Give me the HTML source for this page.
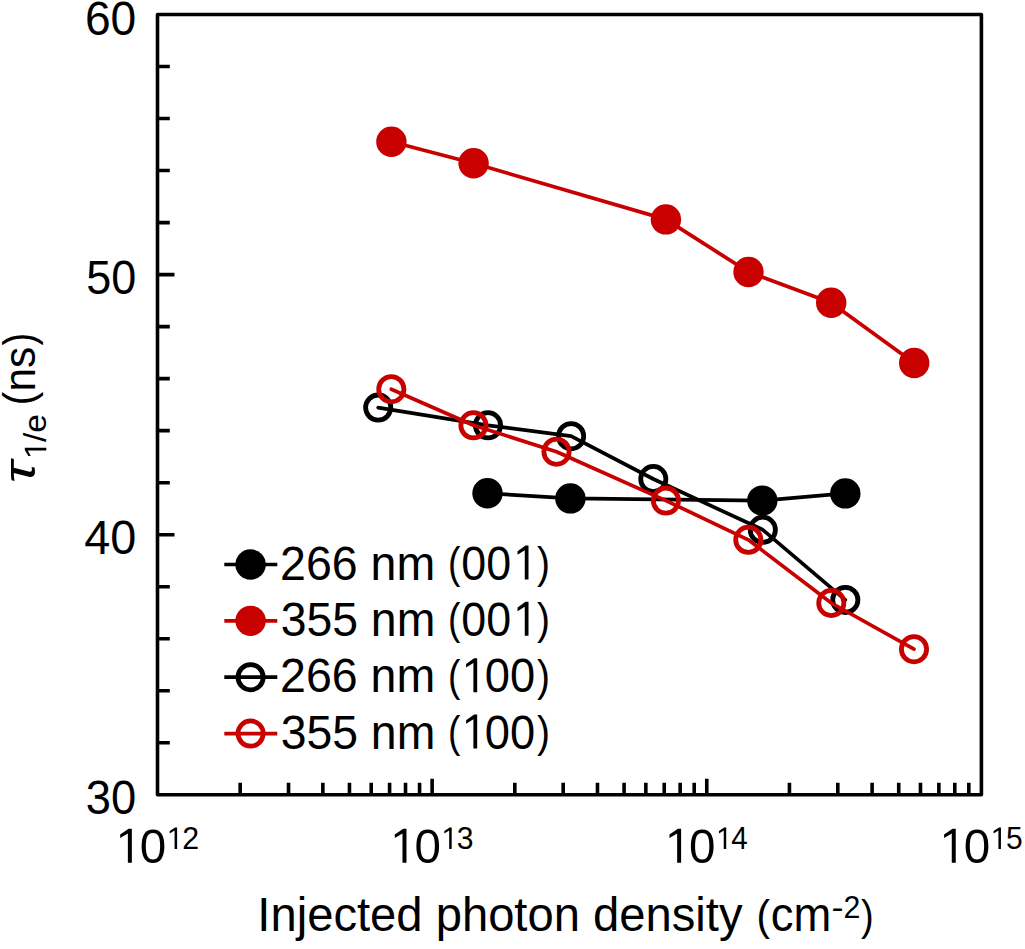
<!DOCTYPE html>
<html><head><meta charset="utf-8"><style>
html,body{margin:0;padding:0;background:#fff;}
svg{display:block;}
text{font-family:"Liberation Sans",sans-serif;fill:#000;font-kerning:none;}
</style></head><body>
<svg width="1025" height="949" viewBox="0 0 1025 949">
<rect x="157.5" y="14.5" width="823.90" height="780.30" fill="none" stroke="#000" stroke-width="3.6" stroke-linejoin="round"/>
<path d="M157.50 742.78H169.80M157.50 690.76H169.80M157.50 638.74H169.80M157.50 586.72H169.80M157.50 534.70H174.50M157.50 482.68H169.80M157.50 430.66H169.80M157.50 378.64H169.80M157.50 326.62H169.80M157.50 274.60H174.50M157.50 222.58H169.80M157.50 170.56H169.80M157.50 118.54H169.80M157.50 66.52H169.80M240.17 794.80V782.80M288.53 794.80V782.80M322.85 794.80V782.80M349.46 794.80V782.80M371.21 794.80V782.80M389.59 794.80V782.80M405.52 794.80V782.80M419.57 794.80V782.80M432.13 794.80V778.80M514.81 794.80V782.80M563.17 794.80V782.80M597.48 794.80V782.80M624.09 794.80V782.80M645.84 794.80V782.80M664.23 794.80V782.80M680.15 794.80V782.80M694.20 794.80V782.80M706.77 794.80V778.80M789.44 794.80V782.80M837.80 794.80V782.80M872.11 794.80V782.80M898.73 794.80V782.80M920.47 794.80V782.80M938.86 794.80V782.80M954.79 794.80V782.80M968.83 794.80V782.80" stroke="#000" stroke-width="3.6" fill="none"/>
<text x="84.96" y="35.00" font-size="49" textLength="51.35" lengthAdjust="spacingAndGlyphs">60</text>
<text x="86.20" y="294.30" font-size="49" textLength="50.06" lengthAdjust="spacingAndGlyphs">50</text>
<text x="84.22" y="554.40" font-size="49" textLength="52.10" lengthAdjust="spacingAndGlyphs">40</text>
<text x="85.87" y="814.10" font-size="49" textLength="50.40" lengthAdjust="spacingAndGlyphs">30</text>
<text x="113.32" y="862.80" font-size="49" textLength="52.94" lengthAdjust="spacingAndGlyphs"> 0</text><path d="M797 0L626 0L626 1221L296 1032L296 1183L660 1421L797 1421Z" transform="translate(113.32 862.80) scale(0.02324 -0.02393)"/>
<text x="165.32" y="849.00" font-size="31" textLength="33.70" lengthAdjust="spacingAndGlyphs"> 2</text><path d="M797 0L626 0L626 1221L296 1032L296 1183L660 1421L797 1421Z" transform="translate(165.32 849.00) scale(0.01480 -0.01514)"/>
<text x="387.95" y="862.80" font-size="49" textLength="52.94" lengthAdjust="spacingAndGlyphs"> 0</text><path d="M797 0L626 0L626 1221L296 1032L296 1183L660 1421L797 1421Z" transform="translate(387.95 862.80) scale(0.02324 -0.02393)"/>
<text x="439.98" y="849.00" font-size="31" textLength="33.47" lengthAdjust="spacingAndGlyphs"> 3</text><path d="M797 0L626 0L626 1221L296 1032L296 1183L660 1421L797 1421Z" transform="translate(439.98 849.00) scale(0.01469 -0.01514)"/>
<text x="662.59" y="862.80" font-size="49" textLength="52.94" lengthAdjust="spacingAndGlyphs"> 0</text><path d="M797 0L626 0L626 1221L296 1032L296 1183L660 1421L797 1421Z" transform="translate(662.59 862.80) scale(0.02324 -0.02393)"/>
<text x="714.69" y="849.00" font-size="31" textLength="32.95" lengthAdjust="spacingAndGlyphs"> 4</text><path d="M797 0L626 0L626 1221L296 1032L296 1183L660 1421L797 1421Z" transform="translate(714.69 849.00) scale(0.01446 -0.01514)"/>
<text x="937.22" y="862.80" font-size="49" textLength="52.94" lengthAdjust="spacingAndGlyphs"> 0</text><path d="M797 0L626 0L626 1221L296 1032L296 1183L660 1421L797 1421Z" transform="translate(937.22 862.80) scale(0.02324 -0.02393)"/>
<text x="989.26" y="849.00" font-size="31" textLength="33.40" lengthAdjust="spacingAndGlyphs"> 5</text><path d="M797 0L626 0L626 1221L296 1032L296 1183L660 1421L797 1421Z" transform="translate(989.26 849.00) scale(0.01466 -0.01514)"/>
<text x="257.35" y="931.40" font-size="47.5" textLength="485.15" lengthAdjust="spacingAndGlyphs">Injected photon density</text>
<text x="756.47" y="929.60" font-size="43.4" textLength="13.56" lengthAdjust="spacingAndGlyphs">(</text>
<text x="770.77" y="931.40" font-size="47.5" textLength="60.41" lengthAdjust="spacingAndGlyphs">cm</text>
<text x="831.40" y="917.50" font-size="31" textLength="12.00" lengthAdjust="spacingAndGlyphs">-</text>
<text x="843.38" y="917.50" font-size="31" textLength="16.85" lengthAdjust="spacingAndGlyphs">2</text>
<text x="860.88" y="929.60" font-size="43.4" textLength="12.69" lengthAdjust="spacingAndGlyphs">)</text>
<g transform="translate(35 0) rotate(-90)"><text x="-483.35" y="0.00" font-size="45" textLength="21.94" lengthAdjust="spacingAndGlyphs" font-style="italic">τ</text><text x="-460.75" y="11.30" font-size="31" textLength="46.64" lengthAdjust="spacingAndGlyphs"> /e</text><path d="M797 0L626 0L626 1221L296 1032L296 1183L660 1421L797 1421Z" transform="translate(-460.75 11.30) scale(0.01638 -0.01514)"/><text x="-405.33" y="-1.40" font-size="43.9" textLength="13.56" lengthAdjust="spacingAndGlyphs">(</text><text x="-391.52" y="0.00" font-size="45" textLength="44.85" lengthAdjust="spacingAndGlyphs">ns</text><text x="-345.52" y="-1.40" font-size="43.9" textLength="12.69" lengthAdjust="spacingAndGlyphs">)</text></g>
<path d="M487.5 493.3 L570.4 498.4 L762.3 500.6 L845.3 493.4" fill="none" stroke="#000" stroke-width="3.7" stroke-linejoin="round" stroke-linecap="round"/><circle cx="487.5" cy="493.3" r="15.2" fill="#000"/><circle cx="570.4" cy="498.4" r="15.2" fill="#000"/><circle cx="762.3" cy="500.6" r="15.2" fill="#000"/><circle cx="845.3" cy="493.4" r="15.2" fill="#000"/>
<path d="M391.4 141.7 L473.6 163.3 L665.9 219.4 L748.5 272.0 L831.2 302.8 L914.2 363.0" fill="none" stroke="#c80000" stroke-width="3.7" stroke-linejoin="round" stroke-linecap="round"/><circle cx="391.4" cy="141.7" r="15.2" fill="#c80000"/><circle cx="473.6" cy="163.3" r="15.2" fill="#c80000"/><circle cx="665.9" cy="219.4" r="15.2" fill="#c80000"/><circle cx="748.5" cy="272" r="15.2" fill="#c80000"/><circle cx="831.2" cy="302.8" r="15.2" fill="#c80000"/><circle cx="914.2" cy="363" r="15.2" fill="#c80000"/>
<path d="M378.2 407.6 L488.0 425.3 L571.1 436.2 L653.3 479.0 L762.8 529.8 L845.3 599.9" fill="none" stroke="#000" stroke-width="3.7" stroke-linejoin="round" stroke-linecap="round"/><circle cx="378.2" cy="407.6" r="12.6" fill="none" stroke="#000" stroke-width="4.8"/><circle cx="488" cy="425.3" r="12.6" fill="none" stroke="#000" stroke-width="4.8"/><circle cx="571.1" cy="436.2" r="12.6" fill="none" stroke="#000" stroke-width="4.8"/><circle cx="653.3" cy="479" r="12.6" fill="none" stroke="#000" stroke-width="4.8"/><circle cx="762.8" cy="529.8" r="12.6" fill="none" stroke="#000" stroke-width="4.8"/><circle cx="845.3" cy="599.9" r="12.6" fill="none" stroke="#000" stroke-width="4.8"/>
<path d="M391.3 389.2 L473.4 425.3 L556.5 451.7 L665.9 500.6 L748.3 539.8 L831.3 603.0 L914.0 649.2" fill="none" stroke="#c80000" stroke-width="3.7" stroke-linejoin="round" stroke-linecap="round"/><circle cx="391.3" cy="389.2" r="12.6" fill="none" stroke="#c80000" stroke-width="4.8"/><circle cx="473.4" cy="425.3" r="12.6" fill="none" stroke="#c80000" stroke-width="4.8"/><circle cx="556.5" cy="451.7" r="12.6" fill="none" stroke="#c80000" stroke-width="4.8"/><circle cx="665.9" cy="500.6" r="12.6" fill="none" stroke="#c80000" stroke-width="4.8"/><circle cx="748.3" cy="539.8" r="12.6" fill="none" stroke="#c80000" stroke-width="4.8"/><circle cx="831.3" cy="603" r="12.6" fill="none" stroke="#c80000" stroke-width="4.8"/><circle cx="914" cy="649.2" r="12.6" fill="none" stroke="#c80000" stroke-width="4.8"/>
<path d="M224.3 564.50H277.3" stroke="#000" stroke-width="3.7"/><circle cx="250.6" cy="564.5" r="15.2" fill="#000"/><text x="280.06" y="579.50" font-size="49" textLength="155.21" lengthAdjust="spacingAndGlyphs">266 nm</text><text x="448.08" y="578.00" font-size="44.5" textLength="12.43" lengthAdjust="spacingAndGlyphs">(</text><text x="461.25" y="579.50" font-size="49" textLength="74.73" lengthAdjust="spacingAndGlyphs">00 </text><path d="M797 0L626 0L626 1221L296 1032L296 1183L660 1421L797 1421Z" transform="translate(511.07 579.50) scale(0.02187 -0.02393)"/><text x="537.07" y="578.00" font-size="44.5" textLength="12.94" lengthAdjust="spacingAndGlyphs">)</text>
<path d="M224.3 620.85H277.3" stroke="#c80000" stroke-width="3.7"/><circle cx="250.6" cy="620.85" r="15.2" fill="#c80000"/><text x="280.63" y="635.85" font-size="49" textLength="154.62" lengthAdjust="spacingAndGlyphs">355 nm</text><text x="448.08" y="634.35" font-size="44.5" textLength="12.43" lengthAdjust="spacingAndGlyphs">(</text><text x="461.25" y="635.85" font-size="49" textLength="74.73" lengthAdjust="spacingAndGlyphs">00 </text><path d="M797 0L626 0L626 1221L296 1032L296 1183L660 1421L797 1421Z" transform="translate(511.07 635.85) scale(0.02187 -0.02393)"/><text x="537.07" y="634.35" font-size="44.5" textLength="12.94" lengthAdjust="spacingAndGlyphs">)</text>
<path d="M224.3 677.20H277.3" stroke="#000" stroke-width="3.7"/><circle cx="250.6" cy="677.2" r="12.6" fill="none" stroke="#000" stroke-width="4.8"/><text x="280.06" y="692.20" font-size="49" textLength="155.21" lengthAdjust="spacingAndGlyphs">266 nm</text><text x="448.08" y="690.70" font-size="44.5" textLength="12.43" lengthAdjust="spacingAndGlyphs">(</text><text x="459.56" y="692.20" font-size="49" textLength="75.51" lengthAdjust="spacingAndGlyphs"> 00</text><path d="M797 0L626 0L626 1221L296 1032L296 1183L660 1421L797 1421Z" transform="translate(459.56 692.20) scale(0.02210 -0.02393)"/><text x="537.07" y="690.70" font-size="44.5" textLength="12.94" lengthAdjust="spacingAndGlyphs">)</text>
<path d="M224.3 733.55H277.3" stroke="#c80000" stroke-width="3.7"/><circle cx="250.6" cy="733.55" r="12.6" fill="none" stroke="#c80000" stroke-width="4.8"/><text x="280.63" y="748.55" font-size="49" textLength="154.62" lengthAdjust="spacingAndGlyphs">355 nm</text><text x="448.08" y="747.05" font-size="44.5" textLength="12.43" lengthAdjust="spacingAndGlyphs">(</text><text x="459.56" y="748.55" font-size="49" textLength="75.51" lengthAdjust="spacingAndGlyphs"> 00</text><path d="M797 0L626 0L626 1221L296 1032L296 1183L660 1421L797 1421Z" transform="translate(459.56 748.55) scale(0.02210 -0.02393)"/><text x="537.07" y="747.05" font-size="44.5" textLength="12.94" lengthAdjust="spacingAndGlyphs">)</text>
</svg>
</body></html>
